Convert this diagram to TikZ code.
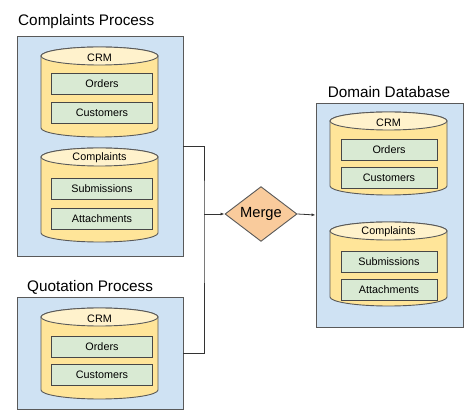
\documentclass[tikz,border=0pt]{standalone}
\usepackage{fontspec}
\setmainfont{Liberation Sans}
\usetikzlibrary{shapes.geometric,arrows.meta}
\definecolor{boxblue}{HTML}{CFE2F3}
\definecolor{cylbody}{HTML}{FFE599}
\definecolor{cyltop}{HTML}{FFF2CC}
\definecolor{tblgreen}{HTML}{D9EAD3}
\definecolor{mergeor}{HTML}{F9CB9C}
\definecolor{edgegray}{HTML}{595959}
\tikzset{
  procbox/.style={draw=edgegray, fill=boxblue, line width=0.9pt, inner sep=0pt},
  tbl/.style={draw=edgegray!80!black, fill=tblgreen, line width=0.9pt, inner sep=0pt,
    minimum height=21pt, font=\fontsize{10.8}{12}\selectfont},
  cyllabel/.style={font=\fontsize{10.8}{12}\selectfont, inner sep=0pt},
  title/.style={font=\fontsize{15.3}{17}\selectfont, inner sep=0pt},
  cylline/.style={draw=edgegray, line width=0.9pt},
  conn/.style={draw=black!80, line width=0.8pt},
  arr/.style={conn, -{Latex[length=4pt,width=3pt]}},
  mergenode/.style={diamond, draw=edgegray, fill=mergeor, line width=0.9pt, inner sep=0pt,
    minimum width=72pt, minimum height=47pt, font=\fontsize{14.7}{16}\selectfont}
}
% cylinder: x1, x2, ytop, ybot, ry
\newcommand{\dbcyl}[5]{%
  \pgfmathsetmacro{\rxv}{(#2-#1)/2}%
  \pgfmathsetmacro{\xcv}{(#1+#2)/2}%
  \path[cylline, fill=cylbody] (#1,#3+#5) -- (#1,#4-#5) arc[start angle=180, end angle=360, x radius=\rxv pt, y radius=#5 pt] -- (#2,#3+#5) arc[start angle=0, end angle=180, x radius=\rxv pt, y radius=#5 pt] -- cycle;
  \path[cylline, fill=cyltop] (\xcv,#3+#5) ellipse[x radius=\rxv pt, y radius=#5 pt];
}
\begin{document}
\begin{tikzpicture}[x=1pt,y=-1pt]
\useasboundingbox (0,0) rectangle (474,419);

% titles
\node[title, anchor=west] (t1) at (18,22) {Complaints Process};
\node[title, anchor=west] (t2) at (27,287) {Quotation Process};
\node[title] (t3) at (389,92) {Domain Database};

% process boxes
\node[procbox, minimum width=166pt, minimum height=220pt] (cp) at (100,146) {};
\node[procbox, minimum width=166pt, minimum height=112pt] (qp) at (100,353) {};
\node[procbox, minimum width=147pt, minimum height=224pt] (dd) at (389.5,215) {};

% cylinders - complaints process
\dbcyl{41}{158}{47}{137}{9}
\node[cyllabel] (c1) at (99.5,58) {CRM};
\node[tbl, minimum width=101pt] (c1o) at (102,84) {Orders};
\node[tbl, minimum width=101pt] (c1c) at (102,112.5) {Customers};

\dbcyl{41}{158}{148}{242}{9}
\node[cyllabel] (c2) at (99.5,158) {Complaints};
\node[tbl, minimum width=101pt] (c2s) at (102,189) {Submissions};
\node[tbl, minimum width=101pt] (c2a) at (102,219) {Attachments};

% quotation process
\dbcyl{41}{158}{308}{399}{9}
\node[cyllabel] (c3) at (99.5,319) {CRM};
\node[tbl, minimum width=101pt] (c3o) at (102,346.5) {Orders};
\node[tbl, minimum width=101pt] (c3c) at (102,374.5) {Customers};

% domain database
\dbcyl{330}{447}{112}{195}{9}
\node[cyllabel] (c4) at (388.5,123) {CRM};
\node[tbl, minimum width=96pt] (c4o) at (389,150) {Orders};
\node[tbl, minimum width=96pt] (c4c) at (389,178) {Customers};

\dbcyl{330}{447}{222}{306}{9}
\node[cyllabel] (c5) at (388.5,231.5) {Complaints};
\node[tbl, minimum width=96pt] (c5s) at (389,262) {Submissions};
\node[tbl, minimum width=96pt] (c5a) at (389,289.5) {Attachments};

% merge
\node[mergenode] (mg) at (261,214) {Merge};
\coordinate (j) at (204,214);

\draw[conn] (cp.east) -| (j) |- (qp.east);
\draw[arr] (j) -- (mg.west);
\draw[arr] (mg.east) -- (dd.west);
\end{tikzpicture}
\end{document}
